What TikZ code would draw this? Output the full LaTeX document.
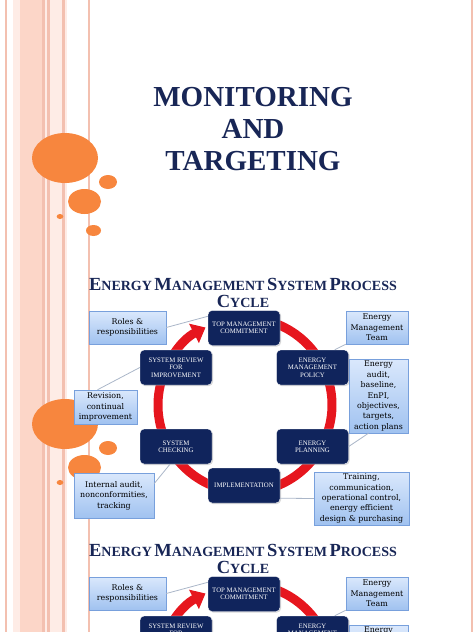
\documentclass[tikz,border=0pt]{standalone}
\usepackage{fontspec}
\setmainfont{Liberation Serif}
\newfontfamily\calloutfont{DejaVu Serif}
\usepackage{tikz}
\usetikzlibrary{arrows.meta, positioning, shadows}
\usepackage{xcolor}
\definecolor{navy}{RGB}{16,36,92}
\definecolor{titlenavy}{RGB}{24,38,86}
\definecolor{ringred}{RGB}{230,22,30}
\definecolor{dotorange}{RGB}{247,134,62}
\definecolor{peach}{RGB}{252,214,200}
\definecolor{peachline}{RGB}{243,192,176}
\definecolor{palepink}{RGB}{254,236,230}
\definecolor{calloutedge}{RGB}{120,160,220}
\definecolor{calloutlight}{RGB}{218,232,252}
\definecolor{calloutdark}{RGB}{160,194,240}
\definecolor{linkgrey}{RGB}{170,182,200}
\newcommand{\smcap}[2]{{\fontsize{18.5}{18}\selectfont #1}{\fontsize{14}{14}\selectfont #2}}

\begin{document}
\begin{tikzpicture}[x=1pt, y=-1pt,
    stage/.style={draw=white, line width=0.4pt, fill=navy, rounded corners=4pt,
        minimum width=72pt, minimum height=35pt, text=white, align=center,
        font=\fontsize{6.8}{7.4}\selectfont, inner sep=1pt,
        drop shadow={opacity=0.3, shadow xshift=1pt, shadow yshift=-1pt}},
    callout/.style={draw=calloutedge, line width=0.5pt, top color=calloutlight,
        bottom color=calloutdark, align=center, inner sep=1pt,
        font=\calloutfont\fontsize{7.9}{10.4}\selectfont,
        drop shadow={opacity=0.3, shadow xshift=1pt, shadow yshift=-1pt}},
    link/.style={draw=linkgrey, line width=0.8pt},
    cyclering/.style={draw=ringred, line width=9pt, -{Triangle[length=13pt,width=21pt]}},
    dot/.style={fill=dotorange},
    heading/.style={text=titlenavy, font=\bfseries}]

    \useasboundingbox (0,0) rectangle (474,632);
    \clip (0,0) rectangle (474,632);

    \foreach \a/\b/\c in {5/7/peachline, 13/20/palepink, 20/42/peach, 42/45/peachline,
        45/47/palepink, 47/50/peachline, 50/62/palepink, 62/65/peachline,
        65/67/palepink, 88/89.5/peachline, 471/473/peachline}
        \fill[\c] (\a,0) rectangle (\b,632);

    \foreach \dy in {0,266} {
        \fill[dot] (65,158+\dy) ellipse [x radius=33, y radius=25];
        \fill[dot] (108,182+\dy) ellipse [x radius=9, y radius=7];
        \fill[dot] (84.5,201.5+\dy) ellipse [x radius=16.5, y radius=12.5];
        \fill[dot] (60,216.5+\dy) ellipse [x radius=3.3, y radius=2.5];
        \fill[dot] (93.5,230.5+\dy) ellipse [x radius=7.5, y radius=5.5];
    }

    \node[heading, align=center, font=\fontsize{29}{32}\selectfont\bfseries] (title) at (253,129)
        {MONITORING\\AND\\TARGETING};

    \foreach \dy/\pre in {0/a-, 266/b-} {
        \begin{scope}[yshift=-\dy pt, name prefix=\pre]
            \node[heading, anchor=base] (emstitle) at (243,290)
                {\smcap{E}{NERGY} \smcap{M}{ANAGEMENT} \smcap{S}{YSTEM} \smcap{P}{ROCESS}};
            \node[heading, anchor=base] (cycletitle) at (243,307) {\smcap{C}{YCLE}};

            \draw[cyclering] ([shift={(-80:87)}]245,405) arc[start angle=-80, end angle=243, radius=87];

            \node[stage] (top) at (244,328) {TOP MANAGEMENT\\COMMITMENT};
            \node[stage] (review) at (176,367.5) {SYSTEM REVIEW\\FOR\\IMPROVEMENT};
            \node[stage] (policy) at (312.5,367.5) {ENERGY\\MANAGEMENT\\POLICY};
            \node[stage] (checking) at (176,446.5) {SYSTEM\\CHECKING};
            \node[stage] (planning) at (312.5,446.5) {ENERGY\\PLANNING};
            \node[stage] (impl) at (244,485.5) {IMPLEMENTATION};

            \node[callout, minimum width=77pt, minimum height=33pt] (roles) at (127.5,327.5)
                {Roles \&\\responsibilities};
            \node[callout, minimum width=62pt, minimum height=33pt] (team) at (377,327.5)
                {Energy\\Management\\Team};
            \node[callout, minimum width=59pt, minimum height=74pt] (audit) at (378.5,396)
                {Energy\\audit,\\baseline,\\EnPI,\\objectives,\\targets,\\action plans};
            \node[callout, minimum width=63pt, minimum height=34pt] (revision) at (105.5,407)
                {Revision,\\continual\\improvement};
            \node[callout, minimum width=80pt, minimum height=45pt] (internal) at (114,495.5)
                {Internal audit,\\nonconformities,\\tracking};
            \node[callout, minimum width=95pt, minimum height=53pt] (training) at (361.5,498.5)
                {Training,\\communication,\\operational control,\\energy efficient\\design \& purchasing};

            \draw[link] (roles.east) -- ([yshift=-6pt]top.north west);
            \draw[link] (team.south west) -- ([xshift=-14pt]policy.north east);
            \draw[link] (review.west) -- ([xshift=-8pt]revision.north);
            \draw[link] (planning.east) -- ([xshift=-10pt]audit.south);
            \draw[link] ([xshift=-6pt]checking.south) -- ([yshift=12pt]internal.east);
            \draw[link] ([yshift=5pt]impl.south east) -- (training.west);
        \end{scope}
    }
\end{tikzpicture}
\end{document}
